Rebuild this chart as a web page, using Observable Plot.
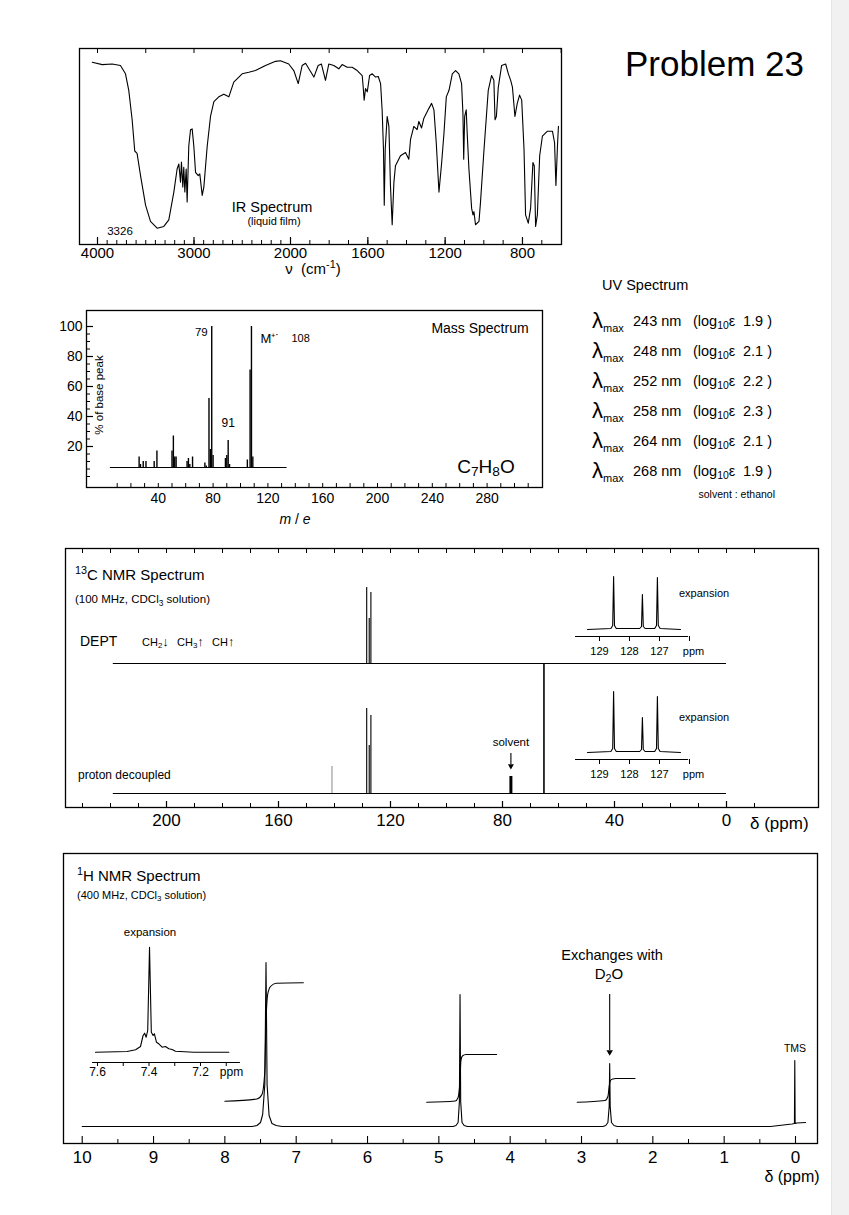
<!DOCTYPE html>
<html><head><meta charset="utf-8">
<script src="https://cdn.jsdelivr.net/npm/d3@7"></script>
<script src="https://cdn.jsdelivr.net/npm/@observablehq/plot@0.6"></script>
<style>
html,body{margin:0;padding:0;background:#fff;overflow:hidden;}
#root{position:relative;width:849px;height:1215px;overflow:hidden;font-family:"Liberation Sans",Arial,Helvetica,sans-serif;color:#000;}
.t{position:absolute;white-space:nowrap;line-height:1;}
.t sub{font-size:0.72em;vertical-align:-0.28em;line-height:0;}
.t sup{font-size:0.72em;vertical-align:0.5em;line-height:0;}
.strip{position:absolute;left:831px;top:0;width:18px;height:1215px;background:#f1f1f1;border-left:1px solid #e4e4e4;}
</style></head><body><div id="root"><div class="strip"></div></div>
<script>
// ---------------- DATA ----------------
// IR spectrum (wavenumber cm-1, % transmittance)
const irWavenumber = [4055,3951,3848,3762,3710,3676,3641,3614,3590,3554,3502,3451,3382,3313,3261,3209,3175,3157,3140,3130,3116,3106,3095,3081,3071,3054,3036,3019,3002,2984,2956,2940,2915,2898,2863,2829,2794,2743,2691,2639,2588,2501,2432,2363,2259,2155,2104,2018,1983,1960,1940,1922,1905,1879,1857,1840,1819,1802,1776,1750,1733,1707,1681,1655,1629,1624,1619,1612,1603,1598,1591,1577,1560,1546,1534,1526,1519,1515,1510,1500,1491,1483,1474,1465,1457,1431,1405,1388,1379,1362,1345,1336,1322,1310,1284,1270,1258,1246,1232,1218,1206,1194,1180,1163,1146,1129,1115,1108,1104,1099,1091,1086,1077,1063,1056,1051,1043,1025,1017,1000,977,960,948,942,935,925,908,887,873,861,852,839,827,815,804,792,784,770,758,746,739,732,723,711,697,671,645,634,627,619,614];
const irTransmittance = [94.9,93.7,94.0,93.2,88.9,80.3,65.0,48.7,47.5,35.9,20.5,12.0,8.5,9.4,12.8,27.3,39.3,41.9,32.5,43.0,29.9,40.2,27.4,39.3,22.2,51.3,59.8,60.2,51.3,37.6,35.9,36.8,25.6,29.9,51.3,66.7,74.4,76.9,78.3,76.9,84.6,88.9,89.7,90.6,93.2,95.4,95.7,94.0,90.6,83.8,93.2,94.4,91.5,87.2,93.2,94.0,85.5,94.0,93.2,91.5,93.7,92.3,92.3,90.6,88.0,82.0,75.2,81.2,79.5,82.9,88.0,88.9,87.2,87.5,83.8,70.1,49.6,20.5,49.6,66.7,61.5,30.8,10.3,32.5,41.0,46.2,47.9,44.4,54.7,61.5,59.8,64.1,60.7,65.8,70.9,73.5,70.1,53.0,27.3,42.7,58.1,76.9,80.3,88.9,90.6,88.9,83.8,68.4,44.4,66.7,70.1,58.1,39.3,18.8,15.4,17.1,10.3,12.0,22.2,47.9,80.3,88.0,85.5,65.0,66.7,82.0,93.2,94.0,88.9,85.5,82.0,66.7,73.5,77.8,75.2,49.6,15.4,11.1,18.8,42.7,41.0,9.4,15.4,46.2,56.4,59.0,59.0,53.0,30.8,51.3,61.5];
const irTickLabels = [4000, 3000, 2000, 1600, 1200, 800];
const irTopTicks = [4000, 3500, 3000, 2500, 2000, 1800, 1600, 1400, 1200, 1000, 800, 600];

// Mass spectrum (m/e, % of base peak)
const massMz    = [26, 27, 29, 31, 37, 39, 50, 51, 52, 53, 61, 62, 63, 65, 74, 75, 77, 78, 79, 80, 89, 90, 91, 92, 105, 107, 108, 109];
const massAbund = [13,  8, 10, 10, 10, 17, 17, 27, 13, 13, 10, 12,  8, 13,  9,  7, 52, 18, 100, 14, 12, 14, 24, 8, 11, 71, 100, 13];
const massBaseline = 6;             // drawn baseline level (%)
const massBaseRange = [5, 134];     // m/e extent of the drawn baseline
const massXTicks = [40, 80, 120, 160, 200, 240, 280];
const massYTicks = [20, 40, 60, 80, 100];

// UV data
const uvLambda = [243, 248, 252, 258, 264, 268];
const uvLogE = ["1.9", "2.1", "2.2", "2.3", "2.1", "1.9"];

// 13C NMR (ppm, relative intensity)
const cDeptPpm = [128.5, 127.6, 127.0, 65.2];
const cDeptInt = [76, 45, 71, -130];
const cDecPpm = [140.9, 128.5, 127.6, 127.0, 65.2];
const cDecInt = [27, 85, 48, 78, 130];
const cSolventPpm = 77.0, cSolventInt = 17;
const cBaseRange = [219, 0];
const cTickLabels = [200, 160, 120, 80, 40, 0];
// 13C expansions
const cExpPpm     = [129.4, 128.62, 128.56, 128.53, 128.50, 128.44, 127.66, 127.60, 127.57, 127.54, 127.48, 127.16, 127.10, 127.07, 127.04, 126.98, 126.3];
const cExpDeptInt = [0, 1, 4, 53, 4, 1, 1, 3, 35, 3, 1, 1, 4, 52, 4, 1, 0];
const cExpDecInt  = [0, 1, 4, 61, 4, 1, 1, 3, 35, 3, 1, 1, 4, 56, 4, 1, 0];
const cExpTicks = [129, 128, 127, 126];
const cExpLabels = [129, 128, 127];

// 1H NMR (ppm, intensity)
const hPpm = [10.0, 7.62, 7.55, 7.50, 7.47, 7.44, 7.423, 7.408, 7.38, 7.34, 7.28, 7.20, 4.80, 4.76, 4.73, 4.712, 4.703, 4.694, 4.675, 4.645, 4.60, 2.70, 2.66, 2.63, 2.612, 2.605, 2.598, 2.58, 2.545, 2.50, 0.35, 0.05, 0.015, 0.01, 0.005, -0.02, -0.14];
const hInt = [0, 0, 1, 4, 12, 42, 164, 42, 11, 3, 1, 0, 0, 1, 4, 25, 132, 25, 4, 1, 0, 0, 1, 4, 20, 63, 20, 4, 1, 0, 0, 2.5, 3, 66, 3, 3.5, 4];
// integrals
const hIntAromPpm = [8.00, 7.55, 7.48, 7.44, 7.425, 7.40, 7.36, 7.28, 6.90];
const hIntAromVal = [25.3, 27.5, 32, 55, 100, 132, 140, 143.3, 143.7];
const hIntCH2Ppm = [5.17, 4.77, 4.73, 4.705, 4.69, 4.67, 4.62, 4.19];
const hIntCH2Val = [24.3, 25.5, 29, 45, 66, 70.5, 72, 72];
const hIntOHPpm = [3.06, 2.67, 2.63, 2.612, 2.595, 2.56, 2.52, 2.25];
const hIntOHVal = [24.3, 26, 30, 40, 46, 47.5, 48, 48];
const hTickLabels = [10, 9, 8, 7, 6, 5, 4, 3, 2, 1, 0];
const hD2OPpm = 2.605, hD2OArrow = [132, 76];
// 1H expansion
const hExpPpm = [7.608, 7.485, 7.452, 7.433, 7.423, 7.417, 7.411, 7.405, 7.401, 7.398, 7.395, 7.391, 7.384, 7.379, 7.371, 7.362, 7.349, 7.336, 7.323, 7.310, 7.297, 7.226, 7.090];
const hExpInt = [0.3, 1, 2.7, 6, 17, 19.3, 15.3, 22, 68.7, 105.3, 68.7, 20.3, 17, 18.7, 10.3, 8.7, 5.3, 6, 3.7, 3, 1.3, 0.3, 0.3];
const hExpTicks = [7.6, 7.5, 7.4, 7.3, 7.2, 7.1];
const hExpLabels = [7.6, 7.4, 7.2];

// ---------------- HELPERS ----------------
const FONT = "'Liberation Sans', Arial, Helvetica, sans-serif";
const root = document.getElementById("root");
const zip2 = (a, b, ka, kb) => a.map((v, i) => ({[ka]: v, [kb]: b[i]}));

function layer(top, height, opts) {
  const svg = Plot.plot({
    width: 849, height,
    marginLeft: 0, marginRight: 0, marginTop: 0, marginBottom: 0,
    ...opts,
    style: `font-family: ${FONT}; background: transparent; overflow: visible;`
  });
  svg.style.position = "absolute";
  svg.style.left = "0px";
  svg.style.top = top + "px";
  svg.style.maxWidth = "none";
  root.appendChild(svg);
  return svg;
}
function label(html, x, y, size, anchor = "start", extra = "") {
  const d = document.createElement("div");
  d.className = "t";
  d.innerHTML = html;
  const tx = anchor === "middle" ? "-50%" : anchor === "end" ? "-100%" : "0";
  d.style.cssText = `left:${x}px;top:${y}px;font-size:${size}px;transform:translate(${tx},-50%) ${extra};`;
  root.appendChild(d);
}
const TXT = {fontFamily: FONT, fill: "#000"};

// ---------------- IR ----------------
{
  const ir = zip2(irWavenumber, irTransmittance, "wn", "t");
  const H = 240, fh = H - 8 - 36;
  layer(40, H, {
    marginLeft: 79, marginRight: 288, marginTop: 8, marginBottom: 36,
    x: {axis: null, type: "linear", domain: [4000, 2000, 400], range: [97, 290, 599.3]},
    y: {axis: null, domain: [0, 100], range: [204, 12]},
    marks: [
      Plot.frame({stroke: "#000", strokeWidth: 1.3}),
      Plot.ruleX(d3.range(700, 4001, 100), {insetTop: fh - 4, strokeWidth: 1}),
      Plot.ruleX(irTickLabels, {insetTop: fh - 7, strokeWidth: 1.2}),
      Plot.ruleX(irTopTicks, {insetBottom: fh - 5, strokeWidth: 1}),
      Plot.line(ir, {x: "wn", y: "t", stroke: "#000", strokeWidth: 1.1}),
      Plot.text(irTickLabels, {x: d => d, frameAnchor: "bottom", dy: 13, fontSize: 15, text: d => String(d), ...TXT})
    ]
  });
}

// ---------------- MASS ----------------
{
  const ms = zip2(massMz, massAbund, "mz", "ab");
  const fh = 230 - 10 - 43, fw = 849 - 86 - 307;
  layer(300, 230, {
    marginLeft: 86, marginRight: 307, marginTop: 10, marginBottom: 43,
    x: {axis: null, domain: [0, 320], range: [103, 541.4]},
    y: {axis: null, domain: [0, 100], range: [176, 26]},
    marks: [
      Plot.frame({stroke: "#000", strokeWidth: 1.3}),
      Plot.ruleY(d3.range(0, 101, 5), {insetRight: fw - 4, strokeWidth: 1}),
      Plot.ruleY(massYTicks, {insetRight: fw - 7, strokeWidth: 1.2}),
      Plot.ruleX(d3.range(10, 320, 10), {insetTop: fh - 4, strokeWidth: 1}),
      Plot.text(massYTicks, {y: d => d, frameAnchor: "left", textAnchor: "end", dx: -4, fontSize: 14, text: d => String(d), ...TXT}),
      Plot.text(massXTicks, {x: d => d, frameAnchor: "bottom", dy: 15, fontSize: 14, text: d => String(d), ...TXT}),
      Plot.ruleY([massBaseline], {x1: massBaseRange[0], x2: massBaseRange[1], strokeWidth: 1.1}),
      Plot.ruleX(ms, {x: "mz", y1: massBaseline, y2: "ab", strokeWidth: 1.4}),
      Plot.text(ms.filter(d => d.mz === 79), {x: "mz", y: "ab", text: d => String(d.mz), textAnchor: "end", dx: -4, dy: 6, fontSize: 11.5, ...TXT}),
      Plot.text(ms.filter(d => d.mz === 91), {x: "mz", y: "ab", text: d => String(d.mz), dy: -17, fontSize: 12, ...TXT}),
      Plot.text(ms.filter(d => d.mz === 108), {x: "mz", y: "ab", text: () => "M⁺˙", textAnchor: "start", dx: 9, dy: 12, fontSize: 13, ...TXT}),
      Plot.text(ms.filter(d => d.mz === 108), {x: "mz", y: "ab", text: d => String(d.mz), textAnchor: "start", dx: 40, dy: 12, fontSize: 11, ...TXT})
    ]
  });
}

// ---------------- 13C ----------------
{
  const fh = 300 - 8 - 33;
  const X = {axis: null, domain: [0, 200], range: [726, 166]};
  layer(540, 300, {
    marginLeft: 65, marginRight: 31, marginTop: 8, marginBottom: 33,
    x: X,
    marks: [
      Plot.frame({stroke: "#000", strokeWidth: 1.3}),
      Plot.ruleX(d3.range(-10, 231, 10), {insetTop: fh - 4, strokeWidth: 1}),
      Plot.ruleX(cTickLabels, {insetTop: fh - 6, strokeWidth: 1.2}),
      Plot.ruleX(d3.range(-10, 231, 10), {insetBottom: fh - 5, strokeWidth: 1}),
      Plot.text(cTickLabels, {x: d => d, frameAnchor: "bottom", dy: 18, fontSize: 17, text: d => String(d), ...TXT})
    ]
  });
  // DEPT trace (baseline at page y 663)
  const dept = zip2(cDeptPpm, cDeptInt, "ppm", "i");
  layer(540, 300, {
    x: X, y: {axis: null, domain: [0, 100], range: [123, 23]},
    marks: [
      Plot.ruleY([0], {x1: cBaseRange[0], x2: cBaseRange[1], strokeWidth: 1.1}),
      Plot.ruleX(dept, {x: "ppm", y1: 0, y2: "i", strokeWidth: 1.1})
    ]
  });
  // proton decoupled trace (baseline at page y 793)
  const dec = zip2(cDecPpm, cDecInt, "ppm", "i");
  layer(540, 300, {
    x: X, y: {axis: null, domain: [0, 100], range: [253, 153]},
    marks: [
      Plot.ruleY([0], {x1: cBaseRange[0], x2: cBaseRange[1], strokeWidth: 1.1}),
      Plot.ruleX(dec.filter(d => d.ppm > 130), {x: "ppm", y1: 0, y2: "i", stroke: "#888", strokeWidth: 1}),
      Plot.ruleX(dec.filter(d => d.ppm <= 130), {x: "ppm", y1: 0, y2: "i", strokeWidth: 1.1}),
      Plot.ruleX([cSolventPpm], {y1: 0, y2: cSolventInt, strokeWidth: 3}),
      Plot.ruleX([cSolventPpm], {y1: 40, y2: 29, strokeWidth: 1.1}),
      Plot.dot([cSolventPpm], {x: d => d, y: 27.5, symbol: "triangle", rotate: 180, r: 2.2, fill: "#000", stroke: null}),
      Plot.text([cSolventPpm], {x: d => d, y: 51, text: () => "solvent", fontSize: 11.5, ...TXT})
    ]
  });
  // expansions
  const XE = {axis: null, domain: [129, 126], range: [599, 689]};
  function expansion(intens, base) {
    const data = zip2(cExpPpm, intens, "ppm", "i");
    layer(540, 300, {
      x: XE, y: {axis: null, domain: [0, 100], range: [base, base - 100]},
      marks: [
        Plot.line(data, {x: "ppm", y: "i", strokeWidth: 1.1}),
        Plot.ruleY([-7], {x1: 129.8, x2: 126.03, strokeWidth: 1.1}),
        Plot.ruleX(cExpTicks, {y1: -7, y2: -12, strokeWidth: 1}),
        Plot.text(cExpLabels, {x: d => d, y: -22, text: d => String(d), fontSize: 11, ...TXT}),
        Plot.text([126], {x: d => d, y: -22, dx: 4, text: () => "ppm", fontSize: 11, ...TXT})
      ]
    });
  }
  expansion(cExpDeptInt, 629 - 540);
  expansion(cExpDecInt, 752 - 540);
}

// ---------------- 1H ----------------
{
  const fh = 345 - 8 - 47;
  const X = {axis: null, domain: [10, 0], range: [81.7, 795]};
  const main = zip2(hPpm, hInt, "ppm", "i");
  const ints = [zip2(hIntAromPpm, hIntAromVal, "ppm", "i"), zip2(hIntCH2Ppm, hIntCH2Val, "ppm", "i"), zip2(hIntOHPpm, hIntOHVal, "ppm", "i")];
  layer(845, 345, {
    marginLeft: 63, marginRight: 32, marginTop: 8, marginBottom: 47,
    x: X, y: {axis: null, domain: [0, 100], range: [281, 181]},
    marks: [
      Plot.frame({stroke: "#000", strokeWidth: 1.3}),
      Plot.ruleX(d3.range(0.5, 10, 1), {insetTop: fh - 4, strokeWidth: 1}),
      Plot.ruleX(hTickLabels, {insetTop: fh - 7, strokeWidth: 1.1}),
      Plot.text(hTickLabels, {x: d => d, frameAnchor: "bottom", dy: 19, fontSize: 17, text: d => String(d), ...TXT}),
      Plot.line(main, {x: "ppm", y: "i", strokeWidth: 1.1}),
      ...ints.map(d => Plot.line(d, {x: "ppm", y: "i", curve: "monotone-x", strokeWidth: 1.1})),
      Plot.ruleX([hD2OPpm], {y1: hD2OArrow[0], y2: hD2OArrow[1], strokeWidth: 1.1}),
      Plot.dot([hD2OPpm], {x: d => d, y: hD2OArrow[1] - 1.5, symbol: "triangle", rotate: 180, r: 2.4, fill: "#000", stroke: null})
    ]
  });
  // expansion inset
  const ex = zip2(hExpPpm, hExpInt, "ppm", "i");
  layer(845, 345, {
    x: {axis: null, domain: [7.6, 7.2], range: [97, 200]},
    y: {axis: null, domain: [0, 100], range: [207, 107]},
    marks: [
      Plot.line(ex, {x: "ppm", y: "i", strokeWidth: 1.1}),
      Plot.ruleY([-10], {x1: 7.619, x2: 7.045, strokeWidth: 1.1}),
      Plot.ruleX(hExpTicks, {y1: -10, y2: -14, strokeWidth: 1}),
      Plot.text(hExpLabels, {x: d => d, y: -20, text: d => d.toFixed(1), fontSize: 12, ...TXT}),
      Plot.text([7.2], {x: d => d, y: -20, dx: 31, text: () => "ppm", fontSize: 12, ...TXT})
    ]
  });
}

// ---------------- TEXT ----------------
label("Problem 23", 625, 63, 35);
label("IR Spectrum", 272, 207, 14.5, "middle");
label("(liquid film)", 274, 221, 11, "middle");
label("3326", 120, 232, 11.5, "middle");
label("ν&nbsp;&nbsp;(cm<sup>-1</sup>)", 313, 268, 15, "middle");

label("UV Spectrum", 602, 285, 14.5);
uvLambda.forEach((nm, i) => {
  const y = 321 + i * 30;
  label(`<span style="font-size:22px">λ</span><sub style="font-size:11px;vertical-align:-0.35em">max</sub>`, 592, y, 14.5);
  label(`${nm} nm`, 633, y, 14.5);
  label(`(log<sub>10</sub>ε`, 693, y, 14.5);
  label(`${uvLogE[i]} )`, 743, y, 14.5);
});
label("solvent : ethanol", 775, 494, 10.5, "end");

label("Mass Spectrum", 480, 328, 14, "middle");
label("C<sub>7</sub>H<sub>8</sub>O", 486, 466, 19, "middle");
label("% of base peak", 100, 395, 11.5, "middle", "rotate(-90deg)");
label("<i>m</i> / <i>e</i>", 295, 519, 14, "middle");

label("<sup>13</sup>C NMR Spectrum", 75, 574, 15);
label("(100 MHz, CDCl<sub>3</sub> solution)", 75, 600, 11.5);
label("DEPT", 80, 641, 14);
label("CH<sub>2</sub><b style='font-size:13px'>↓</b>", 142, 641, 11);
label("CH<sub>3</sub><b style='font-size:13px'>↑</b>", 177, 641, 11);
label("CH<b style='font-size:13px'>↑</b>", 212, 641, 11);
label("expansion", 679, 593, 11);
label("expansion", 679, 717, 11);
label("proton decoupled", 78, 775, 12);
label("δ (ppm)", 750, 823, 17);

label("<sup>1</sup>H NMR Spectrum", 77, 875, 15);
label("(400 MHz, CDCl<sub>3</sub> solution)", 77, 895, 11);
label("expansion", 150, 933, 11.5, "middle");
label("Exchanges with", 612, 955, 14.5, "middle");
label("D<sub>2</sub>O", 609, 973, 15, "middle");
label("TMS", 795, 1048, 10.5, "middle");
label("δ (ppm)", 792, 1177, 16, "middle");
</script></body></html>
